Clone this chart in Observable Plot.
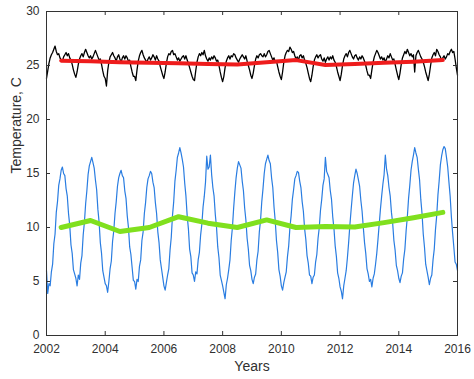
<!DOCTYPE html>
<html><head><meta charset="utf-8">
<script src="https://cdn.jsdelivr.net/npm/d3@7"></script>
<script src="https://cdn.jsdelivr.net/npm/@observablehq/plot@0.6"></script>
<style>html,body{margin:0;padding:0;background:#fff;} #chart svg{display:block;}</style>
</head><body><div id="chart"></div>
<script>
// Sampling: half-month steps starting Jan 2002
const sampleStart = 2002;
const samplesPerYear = 24;

// Upper (black) temperature record, half-monthly readings 2002.0 .. 2016.0
const blackTemp = [
  23.8,24.5,25.2,25.7,26.0,26.2,26.5,26.8,26.3,26.0,26.1,25.7,25.5,25.4,25.8,26.0,26.2,25.9,26.1,25.7,25.5,25.1,24.6,24.2,
  23.9,24.4,25.1,25.6,25.9,26.1,25.8,26.2,26.5,26.2,25.9,25.7,25.9,25.6,25.8,26.1,26.4,26.1,25.8,25.5,25.6,25.1,24.5,24.0,
  23.8,23.1,24.5,25.3,25.8,26.0,26.2,25.9,25.7,25.4,25.8,26.0,25.6,25.3,25.7,25.9,25.6,25.9,25.7,25.4,25.5,24.9,24.4,24.0,
  24.0,23.6,24.6,25.4,25.9,26.2,26.4,26.0,25.7,25.5,25.3,25.6,25.8,25.5,25.7,26.0,25.8,25.5,25.9,25.6,25.4,24.9,24.5,24.1,
  23.8,24.4,25.2,25.8,26.1,26.0,26.3,26.4,26.0,26.1,25.8,25.5,25.7,25.4,25.6,25.8,25.9,25.6,25.9,25.5,25.2,24.8,24.4,24.0,
  23.7,23.6,24.5,25.3,25.8,26.1,25.9,26.2,26.0,26.4,25.9,25.6,25.4,25.7,25.5,25.8,25.6,25.9,25.7,25.4,25.5,25.0,24.4,23.9,
  23.5,24.0,24.8,25.4,25.7,25.9,25.6,25.9,25.8,26.1,26.0,25.7,25.5,25.3,25.6,25.8,26.0,25.8,25.6,25.9,25.4,25.0,24.6,24.1,
  23.8,24.3,25.0,25.6,25.9,25.7,26.0,26.1,25.9,25.8,26.1,25.8,26.0,26.3,26.4,26.1,25.8,25.5,25.7,25.3,25.4,24.9,24.4,24.0,
  23.7,24.4,25.3,25.9,26.2,26.4,26.3,26.7,26.5,26.2,26.3,25.9,25.6,25.8,25.5,25.9,26.0,25.7,25.9,25.5,25.2,24.8,24.3,23.8,
  23.5,24.1,24.9,25.5,25.8,26.0,25.7,25.9,26.0,25.6,25.4,25.7,25.3,25.6,25.8,25.5,25.8,25.6,25.9,25.5,25.3,24.9,24.4,24.0,
  23.6,24.2,25.0,25.6,25.9,26.1,25.8,26.2,26.4,26.1,25.8,25.6,25.9,26.0,25.7,25.5,25.8,25.6,25.9,25.7,25.4,25.0,24.5,24.1,
  24.1,23.8,24.6,25.3,25.8,26.1,26.4,26.2,25.9,25.6,25.8,25.5,25.7,25.3,25.6,25.9,25.7,26.1,25.8,25.5,25.6,25.1,24.6,24.1,
  23.7,24.3,25.1,25.7,26.0,26.3,26.1,26.5,26.2,25.9,26.1,25.8,26.0,24.4,25.9,26.2,26.4,26.1,25.8,25.6,25.3,24.9,24.4,24.0,
  23.6,24.2,25.0,25.7,26.0,26.2,25.9,26.5,26.3,26.0,25.8,25.5,25.7,25.9,25.6,25.8,26.1,26.0,26.3,26.5,26.2,26.3,25.6,24.8,
  24.1
];

// Lower (blue) temperature record, half-monthly readings 2002.0 .. 2016.0
const blueTemp = [
  6.0,3.9,4.8,4.6,5.9,6.6,8.5,9.4,11.4,12.4,13.9,14.5,15.3,15.6,15.0,14.8,13.6,12.9,11.3,10.2,8.4,7.6,6.1,5.7,
  5.3,4.6,5.6,5.2,6.7,7.4,9.3,10.5,12.2,13.4,14.9,15.7,16.1,16.5,16.0,15.5,14.4,13.5,11.7,10.5,8.6,7.6,6.0,5.4,
  4.8,4.6,4.0,5.0,6.2,6.9,8.7,9.7,11.3,12.4,13.8,14.6,15.0,15.3,14.8,14.6,13.4,12.7,11.1,10.0,8.2,7.5,6.3,5.1,
  5.0,4.3,5.2,5.0,6.4,7.0,8.8,9.6,11.3,12.3,13.7,14.5,14.8,15.2,15.0,14.2,13.7,12.3,11.3,9.6,8.6,7.0,6.2,5.4,
  4.6,4.2,4.9,5.6,6.2,7.9,9.1,11.1,12.4,14.3,15.3,16.5,16.9,17.4,16.9,16.3,15.6,14.1,12.9,11.1,9.9,8.0,7.3,5.8,
  5.6,5.0,5.9,5.7,7.0,7.7,9.3,10.3,11.9,12.9,14.2,16.6,15.4,15.6,16.7,14.9,13.7,12.9,11.2,10.0,8.2,7.2,5.6,5.1,
  4.6,4.0,3.4,4.7,5.3,6.1,7.0,8.8,10.0,11.8,13.3,14.6,15.5,16.1,15.8,15.5,14.3,13.4,11.8,10.7,9.0,8.0,6.5,6.0,
  5.2,4.8,5.4,5.7,7.0,7.8,9.6,10.7,12.4,13.6,15.0,15.9,16.3,16.7,16.2,15.9,14.6,13.7,11.9,10.6,8.8,7.7,6.1,5.5,
  4.6,4.2,4.9,5.4,5.9,7.3,8.3,10.0,11.1,12.6,13.5,14.5,14.8,15.2,15.1,14.3,13.7,12.4,11.5,9.9,8.9,7.4,6.7,5.6,
  5.5,4.8,5.4,5.6,6.8,7.5,9.0,10.0,11.6,12.6,13.9,14.5,16.5,15.2,14.9,14.6,13.4,12.6,11.0,9.9,8.3,7.3,5.8,5.3,
  4.5,4.1,3.4,4.6,5.3,6.0,7.2,8.6,10.2,11.6,12.9,14.1,14.8,15.4,15.0,14.4,13.8,12.5,11.5,10.0,8.6,7.6,6.2,5.7,
  5.0,5.2,4.5,5.3,5.7,6.6,7.6,8.9,10.3,11.7,12.9,14.0,14.9,16.7,15.4,14.8,13.7,12.9,11.4,10.4,8.8,7.9,6.5,6.0,
  5.3,4.9,5.5,5.8,7.1,8.0,9.7,11.0,12.7,13.9,15.3,16.1,16.7,17.4,16.9,16.5,15.4,14.4,12.6,11.3,9.4,8.2,6.6,6.0,
  5.4,4.7,5.3,5.6,7.0,8.0,9.8,11.1,13.0,14.3,15.8,16.6,17.2,17.5,17.3,16.5,15.6,14.2,12.9,11.0,9.5,8.2,6.8,6.6,
  6.0
];

// Annual means (mid-year)
const meanYears = [2002.5,2003.5,2004.5,2005.5,2006.5,2007.5,2008.5,2009.5,2010.5,2011.5,2012.5,2013.5,2014.5,2015.5];
const redMean   = [25.45,25.4,25.3,25.25,25.2,25.15,25.1,25.3,25.5,25.05,25.15,25.25,25.35,25.5];
const greenMean = [10.0,10.65,9.63,10.0,11.0,10.4,10.0,10.7,10.0,10.1,10.05,10.45,10.9,11.4];

// Axis ticks
const xTicks = [2002,2004,2006,2008,2010,2012,2014,2016];
const yTicks = [0,5,10,15,20,25,30];

const toSeries = (vals) => vals.map((v, i) => ({year: sampleStart + i / samplesPerYear, temp: v}));
const black = toSeries(blackTemp);
const blue = toSeries(blueTemp);
const red = meanYears.map((y, i) => ({year: y, temp: redMean[i]}));
const green = meanYears.map((y, i) => ({year: y, temp: greenMean[i]}));

const axisColor = "#303030";

const chart = Plot.plot({
  width: 474,
  height: 379,
  marginLeft: 46,
  marginRight: 17,
  marginTop: 11,
  marginBottom: 44,
  style: {fontFamily: "'Liberation Sans', Arial, sans-serif", fontSize: "12px", color: axisColor, background: "#fff"},
  x: {domain: [2002, 2016]},
  y: {domain: [0, 30]},
  marks: [
    Plot.line(black, {x: "year", y: "temp", stroke: "#000", strokeWidth: 1.3}),
    Plot.line(red, {x: "year", y: "temp", stroke: "#ee1c1c", strokeWidth: 4}),
    Plot.line(blue, {x: "year", y: "temp", stroke: "#2a7de1", strokeWidth: 1.2}),
    Plot.line(green, {x: "year", y: "temp", stroke: "#80e01e", strokeWidth: 5}),
    Plot.frame({stroke: "#333"}),
    Plot.ruleX(xTicks, {y1: 0, y2: 0, insetBottom: 4, stroke: "#333"}),
    Plot.ruleX(xTicks, {y1: 30, y2: 30, insetBottom: -4, stroke: "#333"}),
    Plot.ruleY(yTicks, {x1: 2002, x2: 2002, insetRight: -4, stroke: "#333"}),
    Plot.ruleY(yTicks, {x1: 2016, x2: 2016, insetLeft: -4, stroke: "#333"}),
    Plot.axisX(xTicks, {anchor: "bottom", tickSize: 0, tickPadding: 9, tickFormat: (d) => String(d), label: null}),
    Plot.axisY(yTicks, {anchor: "left", tickSize: 0, tickPadding: 7, label: null}),
    Plot.text(["Temperature, C"], {frameAnchor: "left", dx: -30, rotate: -90, fontSize: 14}),
    Plot.text(["Years"], {frameAnchor: "bottom", dy: 35, fontSize: 14})
  ]
});
document.getElementById("chart").appendChild(chart);
</script>
</body></html>
